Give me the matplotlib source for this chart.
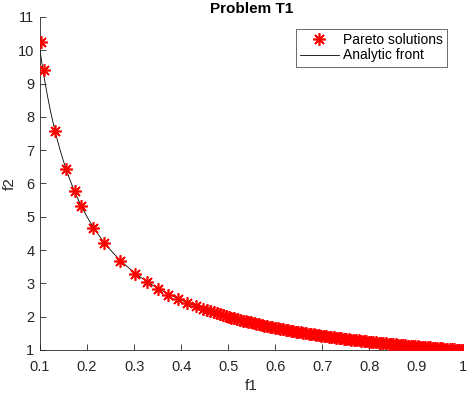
"""Pareto solutions vs analytic front for test problem T1."""
import matplotlib
matplotlib.use("Agg")
import matplotlib.pyplot as plt
import numpy as np

plt.rcParams["font.family"] = ["Liberation Sans", "DejaVu Sans"]

# Pareto solutions
pareto_f1 = [
    0.102, 0.1085, 0.131, 0.155, 0.174, 0.187, 0.212, 0.236, 0.271, 0.301,
    0.327, 0.350, 0.372, 0.394, 0.412, 0.431, 0.447,
    0.455, 0.462, 0.469, 0.476, 0.483, 0.489, 0.495, 0.501, 0.507, 0.513,
    0.519, 0.525, 0.531, 0.537, 0.543, 0.548, 0.554, 0.560, 0.566, 0.571,
    0.577, 0.583, 0.588, 0.594, 0.600, 0.605, 0.611, 0.616, 0.622, 0.627,
    0.633, 0.638, 0.644, 0.649, 0.655, 0.660, 0.666, 0.671, 0.676, 0.682,
    0.687, 0.693, 0.698, 0.703, 0.709, 0.714, 0.719, 0.725, 0.730, 0.735,
    0.741, 0.746, 0.751, 0.757, 0.762, 0.767, 0.772, 0.778, 0.783, 0.788,
    0.794, 0.799, 0.804, 0.809, 0.815, 0.820, 0.825, 0.830, 0.836, 0.841,
    0.846, 0.851, 0.857, 0.862, 0.867, 0.872, 0.877, 0.883, 0.888, 0.893,
    0.898, 0.903, 0.909, 0.914, 0.919, 0.924, 0.929, 0.935, 0.940, 0.945,
    0.950, 0.955, 0.960, 0.966, 0.971, 0.976, 0.981, 0.986, 0.991, 0.996,
    1.000,
]
pareto_f2 = [
    10.25, 9.40, 7.57, 6.44, 5.77, 5.31, 4.67, 4.22, 3.66, 3.29,
    3.03, 2.83, 2.66, 2.53, 2.42, 2.31, 2.24,
    2.198, 2.165, 2.132, 2.101, 2.070, 2.045, 2.020, 1.996, 1.972, 1.949,
    1.927, 1.905, 1.883, 1.862, 1.842, 1.825, 1.805, 1.786, 1.767, 1.751,
    1.733, 1.715, 1.701, 1.684, 1.667, 1.653, 1.637, 1.623, 1.608, 1.595,
    1.580, 1.567, 1.553, 1.541, 1.527, 1.515, 1.502, 1.490, 1.479, 1.466,
    1.456, 1.443, 1.433, 1.422, 1.410, 1.401, 1.391, 1.379, 1.370, 1.361,
    1.350, 1.340, 1.332, 1.321, 1.312, 1.304, 1.295, 1.285, 1.277, 1.269,
    1.259, 1.252, 1.244, 1.236, 1.227, 1.220, 1.212, 1.205, 1.196, 1.189,
    1.182, 1.175, 1.167, 1.160, 1.153, 1.147, 1.140, 1.133, 1.126, 1.120,
    1.114, 1.107, 1.100, 1.094, 1.088, 1.082, 1.076, 1.070, 1.064, 1.058,
    1.053, 1.047, 1.042, 1.035, 1.030, 1.025, 1.019, 1.014, 1.009, 1.004,
    1.000,
]

# analytic front of T1: f2 = 1 / f1 on [0.1, 1]
front_f1 = np.linspace(0.1, 1.0, 400)
front_f2 = 1.0 / front_f1

x_ticks = [0.1, 0.2, 0.3, 0.4, 0.5, 0.6, 0.7, 0.8, 0.9, 1.0]
x_labels = ["0.1", "0.2", "0.3", "0.4", "0.5", "0.6", "0.7", "0.8", "0.9", "1"]
y_ticks = list(range(1, 12))

fig = plt.figure(figsize=(4.74, 3.95), dpi=100)
ax = fig.add_axes([0.0844, 0.114, 0.893, 0.843])

axis_color = "#262626"
ax.plot(pareto_f1, pareto_f2, linestyle="none", marker=(8, 2, 0),
        markersize=9, markeredgewidth=1.2, color="red",
        label="Pareto solutions", zorder=3)
ax.plot(front_f1, front_f2, color="black", linewidth=0.6,
        label="Analytic front", zorder=2)

ax.set_xlim(0.1, 1.0)
ax.set_ylim(1, 11)
ax.set_xticks(x_ticks)
ax.set_xticklabels(x_labels)
ax.set_yticks(y_ticks)

for side in ("top", "right"):
    ax.spines[side].set_visible(False)
for side in ("left", "bottom"):
    ax.spines[side].set_color(axis_color)
    ax.spines[side].set_linewidth(0.6)
ax.tick_params(direction="in", length=4, width=0.6, colors=axis_color,
               labelsize=10.5)
ax.tick_params(axis="x", pad=7)
ax.tick_params(axis="y", pad=4)

ax.set_xlabel("f1", fontsize=11, color=axis_color, labelpad=4)
ax.set_ylabel("f2", fontsize=11, color=axis_color)
ax.yaxis.set_label_coords(-0.055, 0.5)
ax.set_title("Problem T1", fontsize=11, fontweight="bold", pad=3)

leg = ax.legend(loc="upper right", bbox_to_anchor=(0.978, 0.985),
                fontsize=10, frameon=True, fancybox=False,
                handlelength=2.8, borderpad=0.3, labelspacing=0.1,
                handletextpad=0.3)
leg.get_frame().set_edgecolor(axis_color)
leg.get_frame().set_linewidth(0.6)

fig.savefig("out.png", dpi=100)
